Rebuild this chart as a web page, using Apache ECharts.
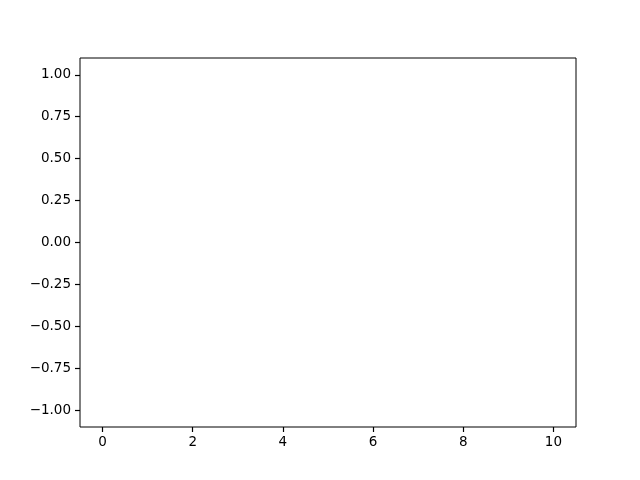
<!DOCTYPE html>
<html>
<head>
<meta charset="utf-8">
<script src="https://cdn.jsdelivr.net/npm/echarts@6/dist/echarts.min.js"></script>
<style>html,body{margin:0;padding:0;background:#fff}#c{width:640px;height:480px}</style>
</head>
<body>
<div id="c"></div>
<script>
const xTicks = [0, 2, 4, 6, 8, 10];
const yTicks = [-1.0, -0.75, -0.5, -0.25, 0.0, 0.25, 0.5, 0.75, 1.0];
const xRange = [-0.5, 10.5];
const yRange = [-1.1, 1.1];
const seriesData = [];

const chart = echarts.init(document.getElementById('c'), null, {renderer: 'canvas'});
const fmt = v => Number(v).toFixed(2).replace('-', '\u2212');
chart.setOption({
  animation: false,
  backgroundColor: '#fff',
  grid: {left: 80, top: 58, width: 496, height: 369, show: true, borderColor: '#000', borderWidth: 1, backgroundColor: 'transparent'},
  xAxis: {
    type: 'value', position: 'bottom', min: xRange[0], max: xRange[1],
    axisLine: {show: false, onZero: false},
    splitLine: {show: false},
    axisTick: {show: true, inside: false, length: 5, customValues: xTicks, lineStyle: {color: '#000', width: 1.2}},
    axisLabel: {customValues: xTicks, color: '#000', fontFamily: 'DejaVu Sans', fontSize: 13.5, margin: 8,
      formatter: v => String(v)}
  },
  yAxis: {
    type: 'value', position: 'left', min: yRange[0], max: yRange[1],
    axisLine: {show: false, onZero: false},
    splitLine: {show: false},
    axisTick: {show: true, inside: false, length: 5, customValues: yTicks, lineStyle: {color: '#000', width: 1.2}},
    axisLabel: {customValues: yTicks, color: '#000', fontFamily: 'DejaVu Sans', fontSize: 13.5, margin: 9,
      formatter: fmt}
  },
  series: [{type: 'line', data: seriesData, showSymbol: false}]
});
</script>
</body>
</html>
